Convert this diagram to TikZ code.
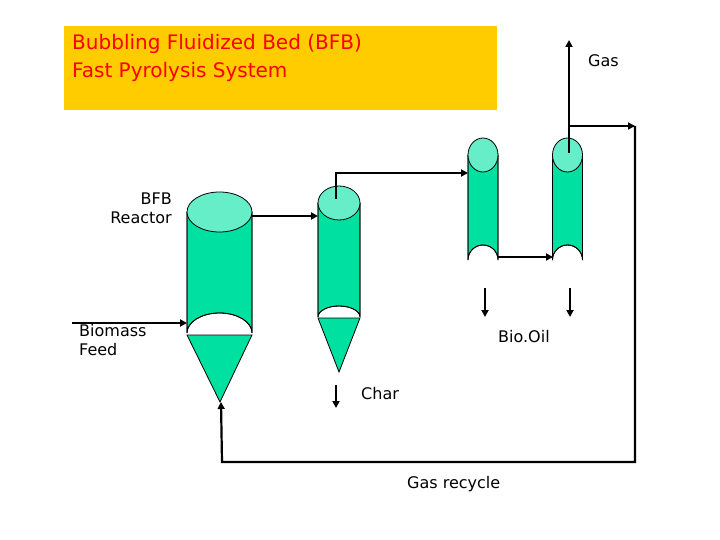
\documentclass[tikz,border=0pt]{standalone}
\usepackage{fontspec}
\setmainfont{DejaVu Sans}
\usetikzlibrary{arrows.meta}
\definecolor{body}{HTML}{00E0A0}
\definecolor{cap}{HTML}{66EEC8}
\definecolor{gold}{HTML}{FFCC00}
\begin{document}
\begin{tikzpicture}[x=1pt,y=-1pt,
  vessel/.style={fill=body,draw=black,line width=0.8pt},
  capst/.style={fill=cap,draw=black,line width=0.8pt},
  flow/.style={line width=2.2pt,-{Triangle[length=7pt,width=7pt]}},
  pipe/.style={line width=2.2pt},
  lbl/.style={font=\fontsize{16}{19}\selectfont,align=left,inner sep=0pt}]
\useasboundingbox (0,0) rectangle (720,540);
% title
\node[fill=gold,minimum width=433pt,minimum height=84pt,inner sep=0pt,anchor=north west] (title) at (64,26) {};
\node[anchor=north west,text=red,font=\fontsize{20}{28}\selectfont,align=left,inner sep=0pt] (ttext) at (72,34) {Bubbling Fluidized Bed (BFB)\\Fast Pyrolysis System};
% reactor
\path[vessel] (220,402) -- (187,335) -- (252,335) -- cycle;
\path[vessel] (187,212) -- (187,333) arc[start angle=180,end angle=360,x radius=32.5,y radius=20] -- (252,212) -- cycle;
\draw[vessel,fill=none] (187,212) -- (187,333) arc[start angle=180,end angle=360,x radius=32.5,y radius=20] -- (252,212);
\draw[capst] (219.5,212) ellipse[x radius=32.5,y radius=20];
\coordinate (rin) at (187,323);
\coordinate (rout) at (252,216);
\coordinate (rbot) at (221,402);
% cyclone
\path[vessel] (339,372) -- (318,318) -- (360,318) -- cycle;
\path[vessel] (318,203) -- (318,317) arc[start angle=180,end angle=360,x radius=21,y radius=11] -- (360,203) -- cycle;
\draw[vessel,fill=none] (318,203) -- (318,317) arc[start angle=180,end angle=360,x radius=21,y radius=11] -- (360,203);
\draw[capst] (339,203) ellipse[x radius=21,y radius=17];
\coordinate (cin) at (318,216);
\coordinate (ctop) at (336,199);
\coordinate (cchar) at (336,385);
% condensers
\foreach \n/\cx in {c1/483,c2/567.5}{
  \path[vessel] (\cx-15,155) -- (\cx-15,260) arc[start angle=180,end angle=360,radius=15] -- (\cx+15,155) -- cycle;
  \draw[vessel,fill=none] (\cx-15,155) -- (\cx-15,260) arc[start angle=180,end angle=360,radius=15] -- (\cx+15,155);
  \draw[capst] (\cx,155) ellipse[x radius=15,y radius=17];
}
\coordinate (c1in) at (468,173);
\coordinate (c1out) at (498,257);
\coordinate (c2in) at (553,257);
\coordinate (c2top) at (569,153);
% connectors
\draw[flow] (rout) -- (cin);
\draw[flow] (ctop) -- (336,173) -- (c1in);
\draw[flow] (c1out) -- (c2in);
\draw[flow] (c2top) -- (569,40);
\draw[flow] (569,126) -- (635,126);
\draw[flow] (635,126) -- (635,462) -- (222,462) -- (rbot);
\draw[flow] (72,323) -- (rin);
\draw[flow] (cchar) -- (336,408);
\draw[flow] (485,288) -- (485,317);
\draw[flow] (570,288) -- (570,317);
% labels
\node[lbl,align=right,anchor=north east] (l1) at (172,193) {BFB\\Reactor};
\node[lbl,anchor=north west] (l2) at (79,324) {Biomass\\Feed};
\node[lbl,anchor=west] (l3) at (361,394) {Char};
\node[lbl,anchor=west] (l4) at (498,337) {Bio.Oil};
\node[lbl,anchor=west] (l5) at (407,484) {Gas recycle};
\node[lbl,anchor=west] (l6) at (588,61) {Gas};
\end{tikzpicture}
\end{document}
